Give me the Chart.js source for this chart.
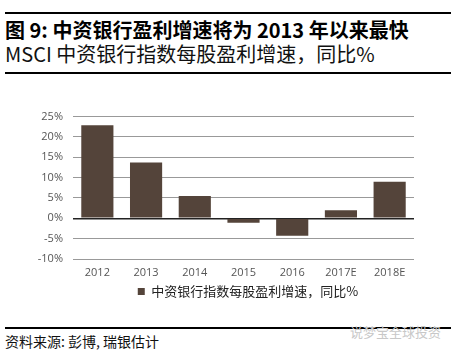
<!DOCTYPE html>
<html>
<head>
<meta charset="utf-8">
<script src="https://cdn.jsdelivr.net/npm/chart.js@4/dist/chart.umd.min.js"></script>
<style>
  body { margin: 0; background: #fff; width: 455px; height: 354px; position: relative; overflow: hidden;
         font-family: "Noto Sans CJK SC", "Noto Sans", sans-serif; }
  .rule { position: absolute; left: 5px; width: 446px; background: #000; }
  .title { position: absolute; left: 5px; top: 18px; font-size: 20px; font-weight: bold; color: #000; white-space: nowrap; line-height: 24px; }
  .subtitle { position: absolute; left: 5px; top: 42px; font-size: 20px; color: #111; white-space: nowrap; line-height: 24px; }
  .source { position: absolute; left: 5px; top: 332px; font-size: 14px; color: #111; white-space: nowrap; line-height: 18px; }
  .mark { position: absolute; left: 350px; top: 322px; font-size: 13px; color: #c8c8c8; white-space: nowrap; }
  #wrap { position: absolute; left: 0; top: 100px; width: 455px; height: 208px; }
</style>
</head>
<body>
<div class="rule" style="top:12px;height:2px"></div>
<div class="title">图 9: 中资银行盈利增速将为 2013 年以来最快</div>
<div class="subtitle">MSCI 中资银行指数每股盈利增速，同比%</div>
<div class="rule" style="top:72px;height:2px"></div>
<div id="wrap"><canvas id="chart"></canvas></div>
<div class="rule" style="top:327px;height:2px"></div>
<div class="source">资料来源: 彭博, 瑞银估计</div>
<div class="mark">说梦宝全球投资</div>
<script>
// chart data
const years = ['2012', '2013', '2014', '2015', '2016', '2017E', '2018E'];
const epsGrowth = [22.9, 13.7, 5.5, -1.1, -4.3, 2.0, 9.0];
const seriesName = '中资银行指数每股盈利增速，同比%';
const yTicks = [-10, -5, 0, 5, 10, 15, 20, 25];

const barColor = '#54443a';
const rightPad = 41;

// legend in the reference is centred on the full width, not the padded area
const shiftLegend = {
  id: 'shiftLegend',
  afterLayout(chart) {
    if (!chart.legend) return;
    chart.legend.left += rightPad;
    chart.legend.right += rightPad;
  },
};

new Chart(document.getElementById('chart'), {
  type: 'bar',
  data: {
    labels: years,
    datasets: [
      {
        label: seriesName,
        data: epsGrowth,
        backgroundColor: barColor,
        borderWidth: 0,
        barPercentage: 0.66,
        categoryPercentage: 1,
      },
    ],
  },
  plugins: [shiftLegend],
  options: {
    responsive: true,
    maintainAspectRatio: false,
    animation: false,
    layout: { padding: { top: 7, right: rightPad, bottom: 0, left: 0 } },
    plugins: {
      legend: {
        display: true,
        position: 'bottom',
        labels: {
          color: '#222',
          boxWidth: 7,
          boxHeight: 7,
          padding: 5,
          font: { size: 13, family: '"Noto Sans CJK SC", sans-serif' },
        },
      },
      tooltip: { enabled: false },
    },
    scales: {
      x: {
        afterFit(scale) { scale.height = 21; },
        grid: { display: false, drawTicks: false },
        border: { display: false },
        ticks: {
          color: '#555',
          padding: 7,
          font: { size: 11, family: '"Open Sans", "Noto Sans", sans-serif' },
        },
      },
      y: {
        min: -10,
        max: 25,
        afterFit(scale) { scale.width = 73; },
        afterBuildTicks(scale) { scale.ticks = yTicks.map(v => ({ value: v })); },
        border: { display: false },
        grid: {
          drawTicks: false,
          color: ctx => (ctx.tick && ctx.tick.value === 0 ? '#222' : '#999'),
          lineWidth: ctx => (ctx.tick && ctx.tick.value === 0 ? 1.5 : 1),
        },
        ticks: {
          color: '#555',
          padding: 10,
          font: { size: 11, family: '"Open Sans", "Noto Sans", sans-serif' },
          callback: v => v + '%',
        },
      },
    },
  },
});
</script>
</body>
</html>
